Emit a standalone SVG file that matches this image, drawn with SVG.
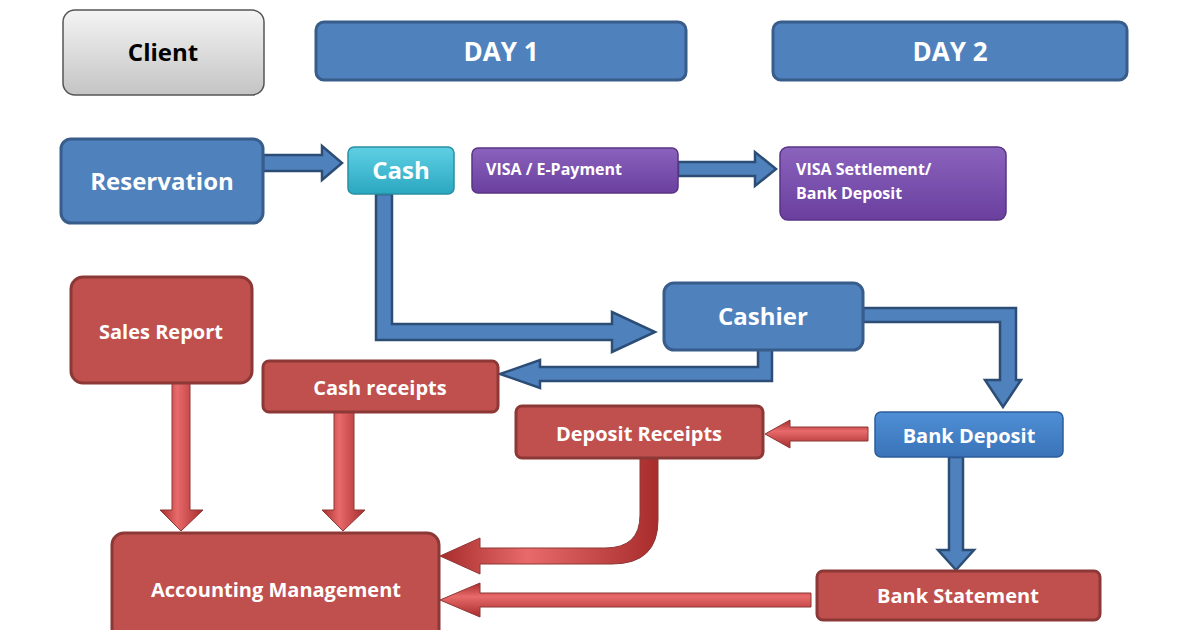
<svg xmlns="http://www.w3.org/2000/svg" width="1200" height="630" viewBox="0 0 1200 630">
<defs>
<linearGradient id="gray" x1="0" y1="0" x2="0" y2="1"><stop offset="0" stop-color="#f4f4f4"/><stop offset="1" stop-color="#c4c4c4"/></linearGradient>
<linearGradient id="cyan" x1="0" y1="0" x2="0" y2="1"><stop offset="0" stop-color="#5fd0e4"/><stop offset="1" stop-color="#2aa7c0"/></linearGradient>
<linearGradient id="purple" x1="0" y1="0" x2="0" y2="1"><stop offset="0" stop-color="#8a63bd"/><stop offset="1" stop-color="#6a3f9e"/></linearGradient>
<linearGradient id="redv" x1="0" y1="0" x2="1" y2="0"><stop offset="0" stop-color="#a82c2c"/><stop offset="0.4" stop-color="#e86a6a"/><stop offset="1" stop-color="#a82c2c"/></linearGradient>
<linearGradient id="redh" x1="0" y1="0" x2="0" y2="1"><stop offset="0" stop-color="#a82c2c"/><stop offset="0.4" stop-color="#e86a6a"/><stop offset="1" stop-color="#a82c2c"/></linearGradient>
<linearGradient id="bluebox" x1="0" y1="0" x2="0" y2="1"><stop offset="0" stop-color="#4f8fd6"/><stop offset="1" stop-color="#3a73b8"/></linearGradient>
</defs>
<style>
.blue{fill:#4f81bd;stroke:#385d8a;stroke-width:3}
.red{fill:#c0504d;stroke:#8c3836;stroke-width:3}
.arrB{fill:#4f81bd;stroke:#2c4d75;stroke-width:2.5}
.t{font-family:"Open Sans","Liberation Sans",sans-serif;font-weight:bold;fill:#fff;text-anchor:middle}
.tl{font-family:"Open Sans","Liberation Sans",sans-serif;font-weight:bold;fill:#fff}
</style>
<rect width="1200" height="630" fill="#fff"/>
<g id="connectors">
<polygon class="arrB" points="263,155 322,155 322,146 342,163 322,180 322,171 263,171"/>
<polygon class="arrB" points="678,162 755,162 755,152 776,169 755,186 755,176 678,176"/>
<polygon class="arrB" points="376,194 392,194 392,324 612,324 612,312 655,332 612,352 612,340 376,340"/>
<polygon class="arrB" points="758,348 772,348 772,381 540,381 540,388 500,374 540,360 540,367 758,367"/>
<polygon class="arrB" points="863,308 1016,308 1016,380 1021,380 1003,407 985,380 1000,380 1000,322 863,322"/>
<polygon class="arrB" points="949,457 963,457 963,550 974,550 956,570 938,550 949,550"/>
<polygon fill="url(#redh)" stroke="#8c3836" stroke-width="1" points="868,427 790,427 790,420 765,434 790,448 790,441 868,441"/>
<polygon fill="url(#redv)" stroke="#8c3836" stroke-width="1" points="172,383 190,383 190,510 203,510 181,531 160,510 172,510"/>
<polygon fill="url(#redv)" stroke="#8c3836" stroke-width="1" points="334,412 354,412 354,510 365,510 343,531 322,510 334,510"/>
<path fill="url(#redv)" stroke="#8c3836" stroke-width="1" d="M640,458 L658,458 L658,520 Q658,564 612,564 L480,564 L480,574 L440,556 L480,538 L480,548 L605,548 Q640,548 640,515 Z"/>
<polygon fill="url(#redh)" stroke="#8c3836" stroke-width="1" points="811,593 480,593 480,583 440,600 480,617 480,607 811,607"/>
</g>
<g id="client"><rect x="63" y="10" width="201" height="85" rx="12" fill="url(#gray)" stroke="#555" stroke-width="1.5"/><text x="163" y="61" font-family="Open Sans,Liberation Sans,sans-serif" font-weight="bold" font-size="24" text-anchor="middle" fill="#000">Client</text></g>
<g id="day1"><rect x="316" y="22" width="370" height="58" rx="8" class="blue"/><text class="t" x="501" y="61" font-size="26">DAY 1</text></g>
<g id="day2"><rect x="773" y="22" width="354" height="58" rx="8" class="blue"/><text class="t" x="950" y="61" font-size="26">DAY 2</text></g>
<g id="reservation"><rect x="61" y="139" width="202" height="84" rx="10" class="blue"/><text class="t" x="162" y="190" font-size="24">Reservation</text></g>
<g id="cash"><rect x="348" y="147" width="106" height="47" rx="6" fill="url(#cyan)" stroke="#2a8ea3" stroke-width="1.5"/><text class="t" x="401" y="179" font-size="24">Cash</text></g>
<g id="visa"><rect x="472" y="148" width="206" height="45" rx="6" fill="url(#purple)" stroke="#5a3585" stroke-width="1.5"/><text class="tl" x="486" y="175" font-size="16">VISA / E-Payment</text></g>
<g id="visa-settlement"><rect x="780" y="147" width="226" height="73" rx="8" fill="url(#purple)" stroke="#5a3585" stroke-width="1.5"/><text class="tl" x="796" y="175" font-size="16">VISA Settlement/</text><text class="tl" x="796" y="199" font-size="16">Bank Deposit</text></g>
<g id="cashier"><rect x="664" y="283" width="199" height="67" rx="10" class="blue"/><text class="t" x="763" y="325" font-size="24">Cashier</text></g>
<g id="sales-report"><rect x="71" y="277" width="181" height="106" rx="12" class="red"/><text class="t" x="161" y="339" font-size="20">Sales Report</text></g>
<g id="cash-receipts"><rect x="263" y="361" width="235" height="51" rx="6" class="red"/><text class="t" x="380" y="395" font-size="20">Cash receipts</text></g>
<g id="deposit-receipts"><rect x="516" y="406" width="247" height="52" rx="6" class="red"/><text class="t" x="639" y="441" font-size="20">Deposit Receipts</text></g>
<g id="bank-deposit"><rect x="875" y="412" width="188" height="45" rx="6" fill="url(#bluebox)" stroke="#2c5d9a" stroke-width="1.5"/><text class="t" x="969" y="443" font-size="20">Bank Deposit</text></g>
<g id="accounting"><rect x="112" y="533" width="327" height="110" rx="12" class="red"/><text class="t" x="276" y="597" font-size="20">Accounting Management</text></g>
<g id="bank-statement"><rect x="817" y="571" width="283" height="49" rx="6" class="red"/><text class="t" x="958" y="603" font-size="20">Bank Statement</text></g>
</svg>
